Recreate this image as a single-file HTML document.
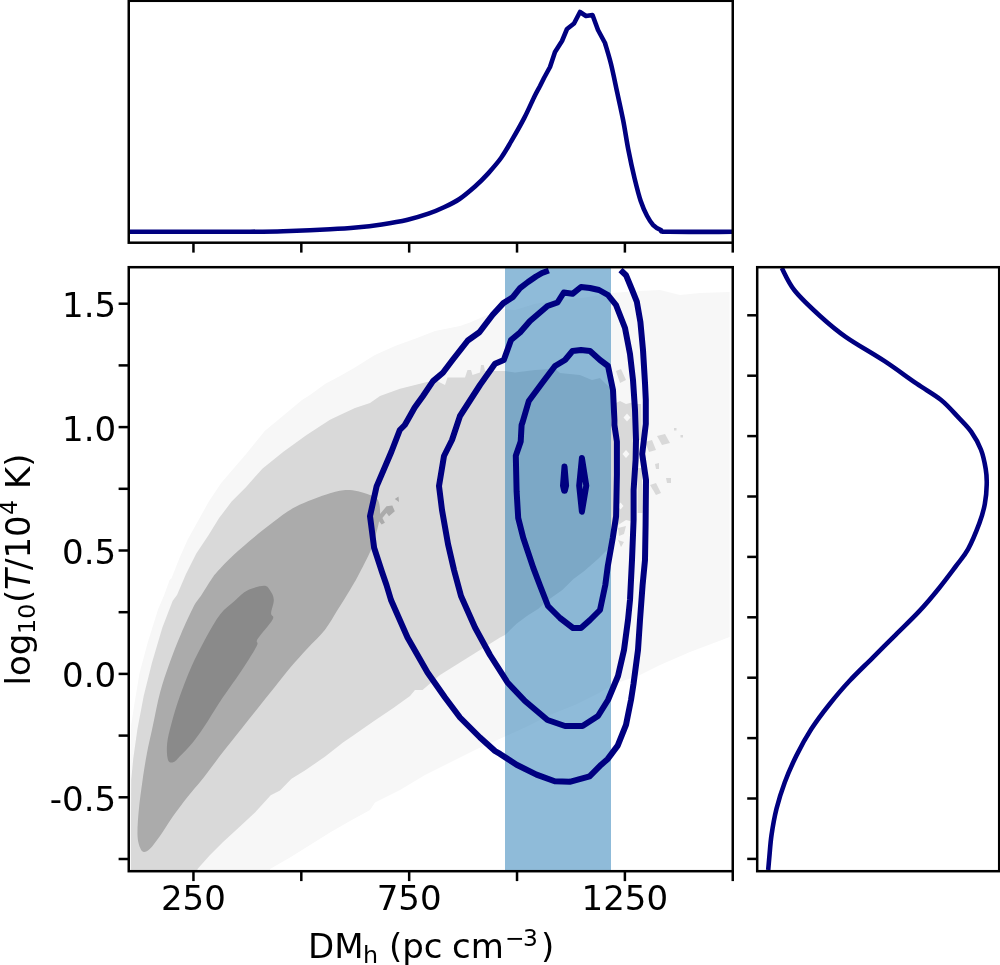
<!DOCTYPE html>
<html><head><meta charset="utf-8"><title>plot</title>
<style>html,body{margin:0;padding:0;background:#fff}svg{display:block}</style></head>
<body>
<svg width="1000" height="965" viewBox="0 0 1000 965">
<rect width="1000" height="965" fill="#fff"/>
<defs><clipPath id="cm"><rect x="128.75" y="267.2" width="604.0" height="604.0"/></clipPath><clipPath id="ct"><rect x="128.75" y="0.8" width="604.0" height="241.89999999999998"/></clipPath><clipPath id="cr"><rect x="757.2" y="267.2" width="242.0" height="604.0"/></clipPath></defs>
<g clip-path="url(#cm)">
<polygon points="131.2,725.0 130.0,780.0 130.0,871.0 270.0,871.0 270.0,869.0 290.0,857.5 310.0,845.0 330.0,832.5 350.0,821.0 370.0,810.0 375.0,802.5 400.0,790.0 425.0,775.0 450.0,762.5 475.0,750.0 500.0,738.8 525.0,727.5 550.0,715.0 575.0,705.0 600.0,692.5 611.0,686.0 620.0,682.0 640.0,675.0 660.0,665.0 690.0,652.0 729.6,637.0 729.6,292.0 700.0,293.0 680.0,295.0 660.0,290.0 640.0,291.0 611.0,293.0 585.0,297.5 560.0,300.0 535.0,303.8 515.0,310.0 505.0,308.8 500.0,310.0 485.0,316.0 470.0,322.5 460.0,326.0 435.0,331.0 415.0,338.8 395.0,346.0 375.0,355.0 370.0,358.0 355.0,367.5 340.0,376.0 325.0,384.0 310.0,395.0 302.0,400.0 283.4,415.5 264.7,431.1 246.1,453.9 233.6,468.4 221.2,482.9 208.8,501.6 198.4,520.2 188.0,538.9 179.7,557.5 171.5,578.2 169.6,580.0 164.2,595.0 158.2,609.0 147.8,642.2 139.5,673.3 134.3,704.4" fill="#f7f7f7"/>
<polygon points="131.0,871.0 131.0,815.0 131.2,780.0 133.3,758.2 137.4,729.2 143.7,696.1 151.9,662.9 162.3,627.7 172.7,600.7 177.0,595.0 186.0,574.1 196.3,553.4 208.8,534.7 219.1,518.1 231.6,501.6 246.1,487.0 262.6,468.4 283.4,451.8 306.2,435.2 330.0,419.7 340.0,415.0 355.0,408.0 370.0,403.0 380.0,396.0 400.0,388.8 420.0,383.8 435.0,380.0 445.0,385.0 447.5,377.5 465.0,377.5 467.5,370.0 471.0,370.0 472.5,375.0 480.0,372.5 481.0,365.0 483.8,365.0 485.0,371.0 505.0,371.0 515.0,372.5 535.0,370.0 555.0,368.8 560.0,373.0 580.0,375.0 592.0,380.0 600.0,378.0 606.0,384.0 611.0,388.0 613.0,398.0 614.0,404.0 620.0,401.0 626.0,404.0 634.0,402.0 635.0,440.0 634.0,522.0 626.0,520.0 618.0,525.0 611.0,546.0 598.0,559.0 584.0,571.2 573.2,579.3 562.4,590.1 548.9,599.5 538.1,609.0 527.3,615.7 516.6,623.8 505.0,635.0 500.0,637.5 480.0,650.0 460.0,662.5 440.0,675.0 422.5,690.0 415.0,690.0 410.0,696.0 393.0,708.3 374.4,720.7 353.6,735.2 343.0,742.4 325.2,756.5 304.9,770.6 291.5,778.8 280.0,790.5 270.7,795.3 255.0,812.5 237.5,828.8 222.5,842.5 210.0,855.0 197.5,869.0 197.5,871.0" fill="#d9d9d9"/>
<path d="M143.8 852.0 C142.1 851.8 141.0 850.3 140.0 847.5 C139.0 844.7 137.7 841.2 137.5 835.0 C137.3 828.8 137.9 819.2 138.8 810.0 C139.6 800.8 141.3 789.3 142.6 780.0 C143.9 770.7 145.1 763.2 146.8 754.1 C148.5 745.0 150.8 735.5 153.0 725.1 C155.2 714.7 157.4 702.3 160.2 691.9 C163.0 681.5 166.1 672.6 169.6 662.9 C173.1 653.2 177.0 643.2 181.0 633.9 C185.0 624.6 190.0 613.5 193.4 607.0 C196.8 600.5 198.6 599.5 201.5 595.0 C204.4 590.5 208.4 583.8 211.0 580.0 C213.6 576.2 213.2 576.2 217.0 572.0 C220.8 567.8 227.4 560.8 233.6 555.0 C239.8 549.2 247.8 542.5 254.4 537.0 C261.0 531.5 266.1 527.3 273.0 522.3 C279.9 517.2 286.3 511.5 295.8 506.7 C305.3 501.9 321.0 496.1 330.0 493.3 C339.0 490.5 343.3 489.7 350.0 490.0 C356.7 490.3 365.3 493.3 370.0 495.0 C374.7 496.7 376.3 496.7 378.0 500.0 C379.7 503.3 380.3 509.3 380.0 515.0 C379.7 520.7 377.5 528.2 376.0 534.0 C374.5 539.8 374.0 543.0 371.0 550.0 C368.0 557.0 361.5 569.3 358.0 576.0 C354.5 582.7 353.4 584.3 350.0 590.0 C346.6 595.7 341.7 603.4 337.5 610.0 C333.3 616.6 330.0 623.3 325.0 629.7 C320.0 636.1 313.1 642.2 307.4 648.4 C301.7 654.6 296.3 660.4 290.8 667.0 C285.3 673.6 279.7 680.9 274.2 687.8 C268.7 694.7 263.1 701.6 257.6 708.5 C252.1 715.4 246.6 722.3 241.1 729.2 C235.6 736.1 229.3 743.8 224.5 750.0 C219.7 756.2 215.8 761.5 212.0 766.5 C208.2 771.5 205.8 774.9 201.7 780.0 C197.6 785.1 192.4 790.8 187.5 797.0 C182.6 803.2 177.1 810.5 172.5 817.0 C167.9 823.5 163.8 830.7 160.0 836.0 C156.2 841.3 152.7 846.1 150.0 848.8 C147.3 851.4 145.4 852.2 143.8 852.0 Z" fill="#ababab"/>
<path d="M263.9 585.8 C267.7 585.8 268.5 588.1 270.1 590.4 C271.8 592.7 273.6 595.9 273.8 599.7 C274.0 603.5 271.3 609.9 271.1 613.2 C270.9 616.5 274.9 615.1 272.6 619.4 C270.4 623.7 260.3 634.6 257.6 639.1 C254.9 643.6 259.4 640.9 256.6 646.3 C253.9 651.6 246.8 662.6 241.1 671.2 C235.4 679.8 227.9 689.8 222.4 698.1 C216.9 706.4 212.7 713.6 207.9 720.9 C203.1 728.2 198.1 735.8 193.4 741.7 C188.7 747.6 183.2 752.8 179.9 756.2 C176.6 759.6 175.7 761.3 173.7 762.0 C171.7 762.7 169.2 763.3 168.1 760.3 C167.0 757.2 166.5 749.9 167.1 743.7 C167.7 737.5 169.5 730.9 171.6 723.0 C173.7 715.1 176.6 705.4 179.9 696.1 C183.2 686.8 187.0 676.7 191.3 667.0 C195.6 657.3 201.0 646.8 205.8 638.0 C210.6 629.2 215.5 620.4 220.3 614.2 C225.1 608.0 230.3 604.7 234.8 600.7 C239.3 596.7 242.5 592.9 247.3 590.4 C252.2 587.9 260.1 585.8 263.9 585.8 Z" fill="#8a8a8a"/>
<polygon points="616.0,371.0 621.0,369.0 626.0,380.0 620.0,383.0" fill="#d9d9d9"/>
<polygon points="645.0,442.0 652.0,440.0 656.0,450.0 649.0,452.0" fill="#d9d9d9"/>
<polygon points="657.0,436.0 665.0,434.0 670.0,443.0 662.0,445.0" fill="#d9d9d9"/>
<polygon points="655.0,464.0 659.0,463.0 659.0,469.0 656.0,469.0" fill="#d9d9d9"/>
<polygon points="666.0,478.0 671.0,478.0 671.0,483.0 667.0,483.0" fill="#d9d9d9"/>
<polygon points="650.0,485.0 656.0,483.0 661.0,493.0 656.0,495.0" fill="#d9d9d9"/>
<polygon points="618.0,528.0 626.0,526.0 624.0,534.0 619.0,536.0" fill="#d9d9d9"/>
<polygon points="636.5,404.0 641.0,404.0 642.0,440.0 637.0,440.0" fill="#d9d9d9"/>
<polygon points="637.6,468.0 642.0,468.0 642.5,513.0 637.6,513.0" fill="#d9d9d9"/>
<polygon points="674.0,428.0 676.5,428.0 676.5,430.5 674.0,430.5" fill="#d9d9d9"/>
<polygon points="680.5,435.0 683.0,435.0 683.0,437.5 680.5,437.5" fill="#d9d9d9"/>
<polygon points="618.0,540.0 624.0,542.0 621.0,547.0" fill="#d9d9d9"/>
<polygon points="627.0,413.5 630.5,417.5 627.0,421.5 623.5,417.5" fill="#f7f7f7"/>
<polygon points="626.0,450.0 629.5,454.0 626.0,458.0 622.5,454.0" fill="#f7f7f7"/>
<polygon points="620.5,502.5 623.5,506.0 620.5,509.5 617.5,506.0" fill="#f7f7f7"/>
<polygon points="376.6,517.9 386.5,506.3 392.3,505.4 394.8,511.2 389.0,516.2 386.5,512.9 382.4,517.9 384.9,522.8 381.6,524.5" fill="#ababab"/>
<polygon points="394.8,499.0 398.5,496.5 399.0,502.0" fill="#ababab"/>
<rect x="505" y="267.2" width="106" height="604.0" fill="#1f77b4" fill-opacity="0.5"/>
<path d="M548.8 270.5 L542.0 273.0 L536.0 276.5 L528.0 282.0 L520.0 288.2 L512.6 297.3 L503.4 303.1 L492.7 314.7 L479.4 332.2 L467.8 340.5 L452.9 359.5 L442.9 372.8 L433.0 381.1 L423.0 396.0 L414.7 407.6 L408.1 419.2 L404.8 425.0 L399.8 430.0 L391.5 451.5 L376.6 486.4 L370.0 516.2 L374.1 547.7 L382.0 572.0 L386.5 585.0 L391.0 600.0 L407.5 637.5 L427.5 672.5 L445.0 697.5 L460.0 717.5 L480.0 737.5 L495.0 751.0 L500.0 753.9 L516.6 764.7 L536.5 774.6 L554.7 781.3 L569.7 781.8 L589.6 776.3 L601.2 764.7 L607.8 758.9 L617.7 745.6 L626.0 724.9 L631.0 700.0 L633.5 684.0 L638.0 650.0 L640.0 620.0 L642.6 585.0 L645.0 560.0 L645.6 524.5 L646.0 480.0 L642.2 454.0 L645.8 424.0 L645.8 400.0 L645.0 383.0 L643.0 350.0 L640.4 322.0 L636.8 301.6 L632.0 289.6 L626.0 275.2 L620.5 270.0" fill="none" stroke="#000080" stroke-width="6" stroke-linejoin="round" stroke-linecap="butt"/>
<path d="M581.0 287.0 L572.5 293.8 L563.8 292.5 L557.5 302.5 L547.5 306.0 L530.0 321.0 L520.0 332.5 L511.0 340.0 L503.8 360.0 L495.0 363.8 L480.0 385.0 L460.0 416.0 L452.0 440.0 L444.0 456.0 L439.0 486.0 L442.0 510.0 L448.0 544.0 L454.0 570.0 L461.0 596.0 L475.0 627.5 L490.0 655.0 L507.5 682.5 L525.0 701.0 L547.5 720.0 L565.0 726.0 L582.5 726.0 L598.0 716.0 L608.0 700.0 L618.0 676.0 L624.0 650.0 L628.0 620.0 L630.0 600.0 L632.0 560.0 L633.6 520.0 L633.6 490.0 L635.6 460.0 L636.0 440.0 L635.0 410.0 L633.0 380.0 L630.0 354.0 L625.0 328.0 L616.0 305.0 L608.0 295.0 L599.0 290.0 L590.0 288.0 Z" fill="none" stroke="#000080" stroke-width="6" stroke-linejoin="round" stroke-linecap="butt"/>
<path d="M581.0 350.0 L572.5 351.0 L565.0 360.0 L555.0 366.0 L542.5 382.5 L528.8 401.0 L522.5 422.5 L521.6 425.0 L520.7 441.6 L515.8 455.7 L516.6 491.3 L518.2 517.9 L523.2 537.8 L533.2 567.6 L539.8 585.0 L548.0 606.0 L560.0 618.0 L573.0 628.0 L581.0 628.0 L590.0 620.0 L600.0 610.0 L605.3 585.0 L607.8 566.0 L612.8 537.8 L616.1 516.2 L616.9 474.8 L616.9 441.6 L614.4 425.0 L614.4 420.0 L613.0 390.0 L608.0 366.0 L600.0 360.0 L590.0 351.0 Z" fill="none" stroke="#000080" stroke-width="6" stroke-linejoin="round" stroke-linecap="butt"/>
<path d="M564.5 466.4 L566.1 485.6 L564.8 490.8 L564.2 490.8 L563.0 485.6 Z" fill="none" stroke="#000080" stroke-width="6" stroke-linejoin="round" stroke-linecap="butt"/>
<path d="M581.9 458.0 L586.3 485.6 L581.9 511.7 L579.2 485.6 Z" fill="none" stroke="#000080" stroke-width="6" stroke-linejoin="round" stroke-linecap="butt"/>
</g>
<g clip-path="url(#ct)"><path d="M128.8 231.7 C149.0 231.7 223.1 231.8 250.0 231.7 C276.9 231.6 276.7 231.4 290.0 231.0 C303.3 230.6 319.0 229.9 330.0 229.3 C341.0 228.7 347.4 228.3 356.0 227.5 C364.6 226.7 373.2 225.7 381.8 224.4 C390.4 223.1 399.9 221.5 407.7 219.7 C415.5 217.9 422.3 215.8 428.4 213.7 C434.4 211.6 438.8 209.8 444.0 207.3 C449.2 204.9 454.3 202.5 459.5 199.0 C464.7 195.5 470.2 190.7 475.0 186.5 C479.8 182.3 483.7 178.3 488.0 173.6 C492.3 168.8 497.1 163.4 501.0 158.0 C504.9 152.6 507.4 147.9 511.3 141.2 C515.2 134.5 520.4 125.5 524.3 117.9 C528.2 110.4 532.1 101.2 534.7 95.9 C537.3 90.6 539.1 87.7 540.0 86.0 L544.0 78.0 L550.0 67.0 L555.0 52.0 L562.0 41.0 L567.0 29.0 L574.0 23.5 L580.0 12.0 L586.0 16.0 L592.5 15.0 L598.0 30.0 L605.0 43.0 C606.0 46.5 609.0 55.9 611.0 64.0 C613.0 72.1 615.0 82.1 617.0 91.5 C619.0 100.9 621.3 110.8 623.2 120.5 C625.1 130.2 626.4 139.8 628.3 149.5 C630.2 159.2 632.5 169.9 634.6 178.5 C636.7 187.1 638.7 195.1 640.8 201.3 C642.9 207.5 644.9 211.8 647.0 215.8 C649.1 219.8 651.0 222.8 653.2 225.1 C655.5 227.4 657.9 228.8 660.5 229.9 C663.1 231.0 656.8 231.5 668.8 231.8 C680.8 232.1 722.1 231.8 732.8 231.8" fill="none" stroke="#000080" stroke-width="4.6" stroke-linejoin="round"/></g>
<g clip-path="url(#cr)"><path d="M781.8 268.0 C783.9 271.8 788.2 282.5 794.6 290.5 C801.0 298.5 811.7 308.4 820.3 316.2 C828.9 324.0 835.3 329.6 846.0 337.1 C856.7 344.6 872.8 353.4 884.6 361.2 C896.4 369.0 907.3 377.3 916.7 383.7 C926.1 390.1 933.8 394.1 940.8 399.7 C947.8 405.3 953.3 412.0 958.4 417.4 C963.5 422.8 967.5 426.5 971.3 431.9 C975.0 437.2 978.5 443.4 980.9 449.5 C983.3 455.6 984.7 462.9 985.7 468.8 C986.7 474.7 986.9 479.0 986.7 484.9 C986.6 490.8 986.0 497.7 984.8 504.1 C983.6 510.5 982.1 515.9 979.3 523.4 C976.5 530.9 972.0 542.0 968.1 549.1 C964.2 556.2 960.9 559.5 956.0 566.0 C951.1 572.5 945.1 580.6 939.0 588.2 C932.9 595.8 926.3 603.7 919.1 611.4 C911.9 619.1 903.6 626.9 895.9 634.6 C888.1 642.3 880.4 650.1 872.6 657.8 C864.9 665.5 856.6 673.3 849.4 681.0 C842.2 688.7 835.9 696.2 829.5 704.2 C823.1 712.2 816.8 720.5 811.3 729.1 C805.8 737.7 800.8 746.8 796.4 755.6 C792.0 764.5 788.1 773.4 784.8 782.2 C781.5 791.1 778.7 799.9 776.5 808.7 C774.3 817.5 772.7 826.9 771.5 835.2 C770.3 843.5 769.8 852.6 769.2 858.4 C768.7 864.2 768.4 868.1 768.2 870.0" fill="none" stroke="#000080" stroke-width="4.6" stroke-linejoin="round"/></g>
<g fill="none" stroke="#000" stroke-width="2.5" stroke-linejoin="miter">
<rect x="128.75" y="0.8" width="604.0" height="241.89999999999998"/>
<rect x="128.75" y="267.2" width="604.0" height="604.0"/>
<rect x="757.2" y="267.2" width="242.0" height="604.0"/>
</g>
<g stroke="#000" stroke-width="2.5">
<line x1="193.45" y1="242.7" x2="193.45" y2="252.6"/>
<line x1="193.45" y1="871.2" x2="193.45" y2="881.1"/>
<line x1="301.31" y1="242.7" x2="301.31" y2="252.6"/>
<line x1="301.31" y1="871.2" x2="301.31" y2="881.1"/>
<line x1="409.17" y1="242.7" x2="409.17" y2="252.6"/>
<line x1="409.17" y1="871.2" x2="409.17" y2="881.1"/>
<line x1="517.03" y1="242.7" x2="517.03" y2="252.6"/>
<line x1="517.03" y1="871.2" x2="517.03" y2="881.1"/>
<line x1="624.89" y1="242.7" x2="624.89" y2="252.6"/>
<line x1="624.89" y1="871.2" x2="624.89" y2="881.1"/>
<line x1="732.75" y1="242.7" x2="732.75" y2="252.6"/>
<line x1="732.75" y1="871.2" x2="732.75" y2="881.1"/>
<line x1="128.75" y1="303.70" x2="118.6" y2="303.70"/>
<line x1="128.75" y1="365.40" x2="118.6" y2="365.40"/>
<line x1="128.75" y1="427.10" x2="118.6" y2="427.10"/>
<line x1="128.75" y1="488.80" x2="118.6" y2="488.80"/>
<line x1="128.75" y1="550.50" x2="118.6" y2="550.50"/>
<line x1="128.75" y1="612.20" x2="118.6" y2="612.20"/>
<line x1="128.75" y1="673.90" x2="118.6" y2="673.90"/>
<line x1="128.75" y1="735.60" x2="118.6" y2="735.60"/>
<line x1="128.75" y1="797.30" x2="118.6" y2="797.30"/>
<line x1="128.75" y1="859.00" x2="118.6" y2="859.00"/>
<line x1="757.2" y1="315.30" x2="747.2" y2="315.30"/>
<line x1="757.2" y1="375.70" x2="747.2" y2="375.70"/>
<line x1="757.2" y1="436.10" x2="747.2" y2="436.10"/>
<line x1="757.2" y1="496.50" x2="747.2" y2="496.50"/>
<line x1="757.2" y1="556.90" x2="747.2" y2="556.90"/>
<line x1="757.2" y1="617.30" x2="747.2" y2="617.30"/>
<line x1="757.2" y1="677.70" x2="747.2" y2="677.70"/>
<line x1="757.2" y1="738.10" x2="747.2" y2="738.10"/>
<line x1="757.2" y1="798.50" x2="747.2" y2="798.50"/>
<line x1="757.2" y1="858.90" x2="747.2" y2="858.90"/>
</g>
<g font-family="'DejaVu Sans', 'Liberation Sans', sans-serif" font-size="34" fill="#000">
<text x="193.45" y="910.2" text-anchor="middle">250</text>
<text x="409.17" y="910.2" text-anchor="middle">750</text>
<text x="624.89" y="910.2" text-anchor="middle">1250</text>
<text x="116.2" y="317.10" text-anchor="end">1.5</text>
<text x="116.2" y="440.50" text-anchor="end">1.0</text>
<text x="116.2" y="563.90" text-anchor="end">0.5</text>
<text x="116.2" y="687.30" text-anchor="end">0.0</text>
<text x="116.2" y="810.70" text-anchor="end">-0.5</text>
<text x="308.0" y="957.7" font-size="34">DM</text>
<text x="363.0" y="962.6" font-size="23.8">h</text>
<text x="389.0" y="957.7" font-size="34">(pc</text>
<text x="452.0" y="957.7" font-size="34">cm</text>
<text x="505.0" y="945.8" font-size="23.3">−</text>
<text x="523.0" y="945.8" font-size="23.3">3</text>
<text x="541.0" y="957.7" font-size="34">)</text>
<g transform="translate(29.9,683) rotate(-90)">
<text x="-2.5" y="0" font-size="34">log</text>
<text x="49.0" y="5.5" font-size="23.8">10</text>
<text x="80.0" y="0" font-size="34">(</text>
<text x="93.0" y="0" font-size="34" font-style="oblique">T</text>
<text x="113.0" y="0" font-size="34">/10</text>
<text x="168.0" y="-13" font-size="23.8">4</text>
<text x="194.0" y="0" font-size="34">K)</text>
</g>
</g>
</svg>
</body></html>
